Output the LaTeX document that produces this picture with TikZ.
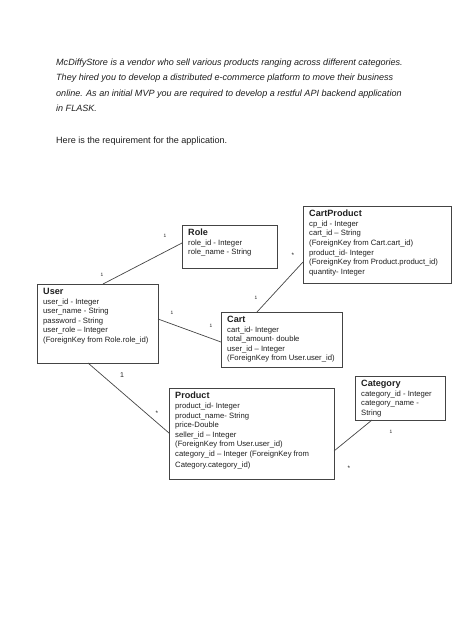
\documentclass[tikz,border=0pt]{standalone}
\usepackage{fontspec}
\setmainfont{Liberation Sans}
\definecolor{ink}{HTML}{1E1E1E}
\definecolor{edge}{HTML}{444444}
\begin{document}
\begin{tikzpicture}[x=1pt,y=-1pt,
  entity/.style={draw=edge, line width=0.8pt, rectangle, inner sep=0pt, anchor=north west},
  fields/.style={anchor=north west, inner sep=0pt, align=left, text=ink, font=\fontsize{7.7}{9.6}\selectfont},
  conn/.style={draw=edge, line width=0.7pt},
  mult/.style={inner sep=0pt, text=ink, font=\fontsize{4.8}{5}\selectfont},
  star/.style={inner sep=0pt, text=ink, font=\fontsize{6.5}{7}\selectfont},
  multbig/.style={inner sep=0pt, text=ink, font=\fontsize{7}{8}\selectfont},
  intro/.style={anchor=base west, inner sep=0pt, text=ink, font=\fontsize{9.05}{10}\selectfont}]
\newcommand{\ttl}[1]{{\fontsize{9.1}{9.6}\selectfont\bfseries #1}}
\path[use as bounding box] (0,0) rectangle (474,632);

% intro text
\node[intro] (l1) at (56,65) {\itshape McDiffyStore is a vendor who sell various products ranging across different categories.};
\node[intro] (l2) at (56,80.5) {\itshape They hired you to develop a distributed e-commerce platform to move their business};
\node[intro] (l3) at (56,96) {\itshape online. As an initial MVP you are required to develop a restful API backend application};
\node[intro] (l4) at (56,111.5) {\itshape in FLASK.};
\node[intro] (l5) at (56,143) {Here is the requirement for the application.};

% boxes
\node[entity, minimum width=95pt, minimum height=43pt] (role) at (182,225) {};
\node[fields] (roleT) at (188,229) {\ttl{Role}\\role\_id - Integer\\role\_name - String};

\node[entity, minimum width=121pt, minimum height=79pt] (user) at (37,284) {};
\node[fields] (userT) at (43,288) {\ttl{User}\\user\_id - Integer\\user\_name - String\\password - String\\user\_role -- Integer\\(ForeignKey from Role.role\_id)};

\node[entity, minimum width=148pt, minimum height=77pt] (cp) at (303,206) {};
\node[fields] (cpT) at (309,210) {\ttl{CartProduct}\\cp\_id - Integer\\cart\_id -- String\\(ForeignKey from Cart.cart\_id)\\product\_id- Integer\\(ForeignKey from Product.product\_id)\\quantity- Integer};

\node[entity, minimum width=121pt, minimum height=55pt] (cart) at (221,312) {};
\node[fields] (cartT) at (227,316) {\ttl{Cart}\\cart\_id- Integer\\total\_amount- double\\user\_id -- Integer\\(ForeignKey from User.user\_id)};

\node[entity, minimum width=165pt, minimum height=91pt] (prod) at (169,388) {};
\node[fields] (prodT) at (175,392) {\ttl{Product}\\product\_id- Integer\\product\_name- String\\price-Double\\seller\_id -- Integer\\(ForeignKey from User.user\_id)\\category\_id -- Integer (ForeignKey from\\[1.2pt]Category.category\_id)};

\node[entity, minimum width=90pt, minimum height=44pt] (cat) at (355,376) {};
\node[fields] (catT) at (361,380) {\ttl{Category}\\category\_id - Integer\\category\_name -\\String};

% connector end points
\coordinate (uTop) at (103,284);
\coordinate (rL) at (182,243);
\coordinate (uR) at (158,319);
\coordinate (cL) at (221,342);
\coordinate (cTop) at (257,312);
\coordinate (cpL) at (303,262);
\coordinate (uB) at (88,363);
\coordinate (pL) at (169,433);
\coordinate (pR) at (334,451);
\coordinate (catB) at (372,420);

\draw[conn] (uTop) -- (rL);
\draw[conn] (uR) -- (cL);
\draw[conn] (cTop) -- (cpL);
\draw[conn] (uB) -- (pL);
\draw[conn] (pR) -- (catB);

% multiplicities
\node[mult] (m1) at (165,236) {1};
\node[mult] (m2) at (102,275) {1};
\node[mult] (m3) at (172,313) {1};
\node[mult] (m4) at (211,326) {1};
\node[star] (m5) at (293,255) {*};
\node[mult] (m6) at (256,298) {1};
\node[multbig] (m7) at (122,375) {1};
\node[star] (m8) at (157,413) {*};
\node[mult] (m9) at (391,432) {1};
\node[star] (m10) at (349,468) {*};
\end{tikzpicture}
\end{document}
